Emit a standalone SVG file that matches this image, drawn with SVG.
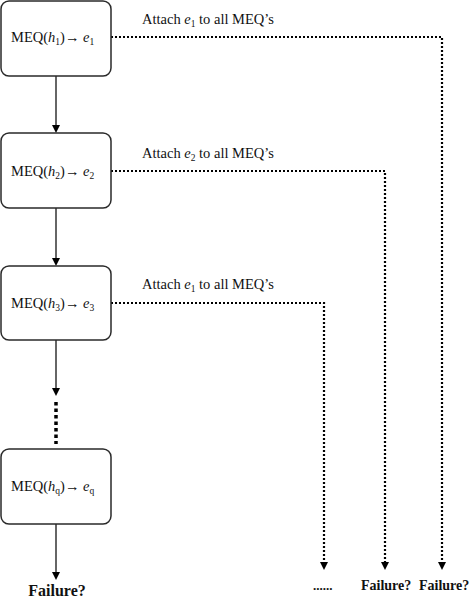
<svg xmlns="http://www.w3.org/2000/svg" width="474" height="598" viewBox="0 0 474 598">
<style>
.box{fill:#fff;stroke:#2a2a2a;stroke-width:1.5}
.t{font-family:"Liberation Serif","Times New Roman",serif;font-size:14.5px;fill:#111}
.it{font-style:italic}
.sub{font-size:9.5px}
.fb{font-family:"Liberation Serif","Times New Roman",serif;font-weight:bold;fill:#111}
.solid{stroke:#333;stroke-width:1.5;fill:none}
.dot{stroke:#000;stroke-width:2.2;stroke-dasharray:2 2;fill:none}
.head{fill:#000}
</style>
<rect width="474" height="598" fill="#fff"/>
<g id="connectors">
  <line class="solid" x1="56" y1="76" x2="56" y2="126"/>
  <path class="head" d="M52,125 L60,125 L56,133 Z"/>
  <line class="solid" x1="56" y1="208" x2="56" y2="259"/>
  <path class="head" d="M52,258 L60,258 L56,266 Z"/>
  <line class="solid" x1="56" y1="340" x2="56" y2="389"/>
  <path class="head" d="M52,388 L60,388 L56,396 Z"/>
  <line x1="56" y1="402" x2="56" y2="444" stroke="#000" stroke-width="3.5" stroke-dasharray="3.5 3"/>
  <line class="solid" x1="56" y1="524" x2="56" y2="573"/>
  <path class="head" d="M52,572 L60,572 L56,580 Z"/>
  <path class="dot" d="M111,37 H442 V563"/>
  <path class="head" d="M438,562 L446,562 L442,570 Z"/>
  <path class="dot" d="M111,171 H385 V563"/>
  <path class="head" d="M381,562 L389,562 L385,570 Z"/>
  <path class="dot" d="M111,303 H324 V563"/>
  <path class="head" d="M320,562 L328,562 L324,570 Z"/>
</g>
<g id="node1">
  <rect class="box" x="1" y="1" width="110" height="75" rx="8"/>
  <text class="t" x="11" y="42">MEQ(<tspan class="it">h</tspan><tspan class="sub" dy="3">1</tspan><tspan dy="-3">)→ </tspan><tspan class="it">e</tspan><tspan class="sub" dy="3">1</tspan></text>
</g>
<g id="node2">
  <rect class="box" x="1" y="133" width="110" height="75" rx="8"/>
  <text class="t" x="11" y="176">MEQ(<tspan class="it">h</tspan><tspan class="sub" dy="3">2</tspan><tspan dy="-3">)→ </tspan><tspan class="it">e</tspan><tspan class="sub" dy="3">2</tspan></text>
</g>
<g id="node3">
  <rect class="box" x="1" y="266" width="110" height="74" rx="8"/>
  <text class="t" x="11" y="308">MEQ(<tspan class="it">h</tspan><tspan class="sub" dy="3">3</tspan><tspan dy="-3">)→ </tspan><tspan class="it">e</tspan><tspan class="sub" dy="3">3</tspan></text>
</g>
<g id="nodeq">
  <rect class="box" x="1" y="449" width="110" height="75" rx="8"/>
  <text class="t" x="11" y="491">MEQ(<tspan class="it">h</tspan><tspan class="sub" dy="3">q</tspan><tspan dy="-3">)→ </tspan><tspan class="it">e</tspan><tspan class="sub" dy="3">q</tspan></text>
</g>
<g id="labels">
  <text class="t" x="142" y="24">Attach <tspan class="it">e</tspan><tspan class="sub" dy="3">1</tspan><tspan dy="-3"> to all MEQ’s</tspan></text>
  <text class="t" x="142" y="158">Attach <tspan class="it">e</tspan><tspan class="sub" dy="3">2</tspan><tspan dy="-3"> to all MEQ’s</tspan></text>
  <text class="t" x="142" y="289">Attach <tspan class="it">e</tspan><tspan class="sub" dy="3">1</tspan><tspan dy="-3"> to all MEQ’s</tspan></text>
</g>
<g id="failure-main">
  <text class="fb" x="57" y="596" font-size="16" text-anchor="middle">Failure?</text>
</g>
<g id="failure-right">
  <text class="fb" x="313" y="590" font-size="13">......</text>
  <text class="fb" x="361" y="590" font-size="14">Failure?</text>
  <text class="fb" x="419" y="590" font-size="14">Failure?</text>
</g>
</svg>
